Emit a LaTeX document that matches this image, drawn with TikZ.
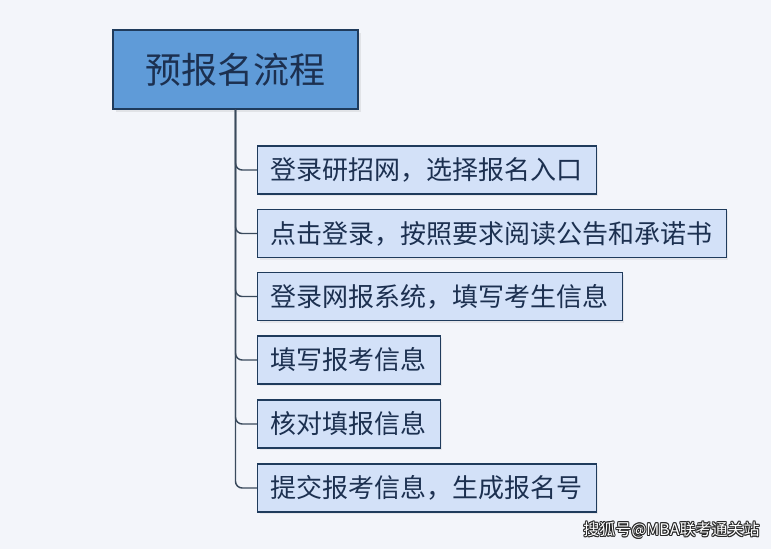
\documentclass[tikz,border=0pt]{standalone}
\usepackage{fontspec}
\newfontfamily\cjk{Noto Sans CJK SC}
\usetikzlibrary{shadows}
\definecolor{bgc}{HTML}{F3F5FA}
\definecolor{titlefill}{HTML}{5F9BD8}
\definecolor{boxfill}{HTML}{D3E1F8}
\definecolor{edgec}{HTML}{1F3B5C}
\definecolor{textc}{HTML}{1C3050}
\definecolor{linec}{HTML}{3A4A5C}
\tikzset{
  titlebox/.style={draw=edgec, line width=1pt, fill=titlefill, minimum width=245*0.75pt, minimum height=79*0.75pt,
    font=\cjk\fontsize{27pt}{30pt}\selectfont, text=textc, inner sep=0pt,
    drop shadow={shadow xshift=2pt, shadow yshift=-2pt, opacity=0.15}},
  stepbox/.style={draw=edgec, line width=0.9pt, fill=boxfill, anchor=west, minimum height=48*0.75pt,
    inner xsep=10pt, inner ysep=0pt, font=\cjk\fontsize{19.5pt}{22pt}\selectfont, text=textc,
    drop shadow={shadow xshift=1.5pt, shadow yshift=-1.5pt, opacity=0.12}},
  conn/.style={draw=linec, line width=1.1pt, rounded corners=5pt},
  wmtext/.style={font=\cjk\fontsize{12pt}{14pt}\selectfont, anchor=west, inner sep=0pt},
}
\begin{document}
\begin{tikzpicture}[x=0.75pt,y=-0.75pt]
\fill[bgc] (0,0) rectangle (771,549);
\useasboundingbox (0,0) rectangle (771,549);
\node[titlebox] (title) at (235.5,69.5) {预报名流程};
\node[stepbox] (s1) at (257,170) {登录研招网，选择报名入口};
\node[stepbox] (s2) at (257,233.5) {点击登录，按照要求阅读公告和承诺书};
\node[stepbox] (s3) at (257,296.5) {登录网报系统，填写考生信息};
\node[stepbox] (s4) at (257,360) {填写报考信息};
\node[stepbox] (s5) at (257,424) {核对填报信息};
\node[stepbox] (s6) at (257,488) {提交报考信息，生成报名号};
\foreach \s in {s1,s2,s3,s4,s5,s6}{
  \draw[conn] (title.south) |- (\s.west);
}
\foreach \dx/\dy in {-1/0,1/0,0/-1,0/1,-0.7/-0.7,0.7/0.7,-0.7/0.7,0.7/-0.7}{
  \node[wmtext, text=black!85] at (583+\dx,530+\dy) {搜狐号@MBA联考通关站};
}
\node[wmtext, text=white] (wm) at (583,530) {搜狐号@MBA联考通关站};
\end{tikzpicture}
\end{document}
